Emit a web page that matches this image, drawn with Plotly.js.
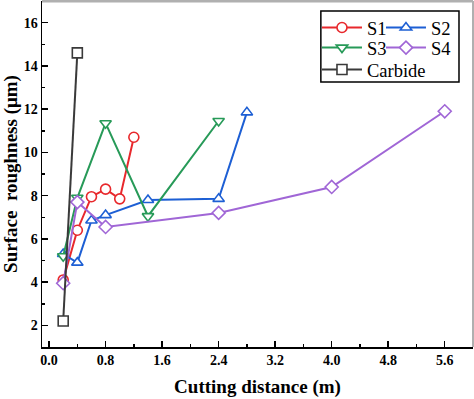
<!DOCTYPE html>
<html><head><meta charset="utf-8">
<script src="https://cdn.plot.ly/plotly-3.0.1.min.js"></script>
<style>html,body{margin:0;padding:0;background:#fff;}#chart{width:474px;height:399px;}</style>
</head><body><div id="chart"></div>
<script>
const s1X = [0.2, 0.4, 0.6, 0.8, 1.0, 1.2];
const s1Y = [4.1, 6.4, 7.95, 8.3, 7.85, 10.7];
const s2X = [0.2, 0.4, 0.6, 0.8, 1.4, 2.4, 2.8];
const s2Y = [5.3, 4.9, 6.85, 7.1, 7.8, 7.85, 11.85];
const s3X = [0.2, 0.4, 0.8, 1.4, 2.4];
const s3Y = [5.2, 7.9, 11.35, 7.05, 11.45];
const s4X = [0.2, 0.4, 0.8, 2.4, 4.0, 5.6];
const s4Y = [3.95, 7.7, 6.55, 7.2, 8.4, 11.9];
const carbX = [0.2, 0.4];
const carbY = [2.2, 14.6];
const xTicks = [0.0, 0.8, 1.6, 2.4, 3.2, 4.0, 4.8, 5.6];
const yTicks = [2, 4, 6, 8, 10, 12, 14, 16];

const FAM = 'Liberation Serif';
function tr(name, x, y, color, symbol, leg) {
  return {x: x, y: y, name: name, type: 'scatter', mode: 'lines+markers', legend: leg,
    line: {color: color, width: 2},
    marker: {symbol: symbol, size: 10, color: 'white', line: {color: color, width: 1.6}}};
}
const data = [
  tr('S1', s1X, s1Y, '#e8282c', 'circle', 'legend'),
  tr('S2', s2X, s2Y, '#1d5fd4', 'triangle-up', 'legend2'),
  tr('S3', s3X, s3Y, '#279a58', 'triangle-down', 'legend3'),
  tr('S4', s4X, s4Y, '#a066d6', 'diamond', 'legend4'),
  tr('Carbide', carbX, carbY, '#3a3a3a', 'square', 'legend5')
];
function leg(x, y) {
  return {x: x, y: y, xanchor: 'left', yanchor: 'middle', orientation: 'h',
    itemwidth: 40, bgcolor: 'rgba(0,0,0,0)', borderwidth: 0,
    font: {family: FAM, size: 18.5, color: '#000'}};
}
const tf = {family: FAM, size: 14, weight: 'bold', color: '#000'};
const layout = {
  width: 474, height: 399,
  margin: {l: 42, r: 1, t: 1, b: 52},
  paper_bgcolor: 'white', plot_bgcolor: 'white',
  showlegend: true,
  font: {family: FAM, color: '#000'},
  xaxis: {range: [-0.1, 6.0], tickvals: xTicks, ticktext: xTicks.map(v => v.toFixed(1)),
    ticks: 'inside', ticklen: 6, tickwidth: 1.5, tickcolor: '#000',
    minor: {dtick: 0.4, tick0: 0, ticks: 'inside', ticklen: 3, tickwidth: 1.5, tickcolor: '#000'},
    showline: true, linecolor: '#000', linewidth: 1.5, showgrid: false, zeroline: false,
    tickfont: tf,
    title: {text: 'Cutting distance (m)', font: {family: FAM, size: 19, weight: 'bold', color: '#000'}, standoff: 12}},
  yaxis: {range: [1, 17], tickvals: yTicks,
    ticks: 'inside', ticklen: 6, tickwidth: 1.5, tickcolor: '#000',
    minor: {dtick: 1, tick0: 1, ticks: 'inside', ticklen: 3, tickwidth: 1.5, tickcolor: '#000'},
    showline: true, linecolor: '#000', linewidth: 1.5, showgrid: false, zeroline: false,
    tickfont: tf,
    title: {text: 'Surface  roughness (μm)', font: {family: FAM, size: 19, weight: 'bold', color: '#000'}, standoff: 6}},
  legend: leg(0.638, 0.922),
  legend2: leg(0.7865, 0.922),
  legend3: leg(0.638, 0.864),
  legend4: leg(0.7865, 0.864),
  legend5: leg(0.638, 0.8006),
  shapes: [
    {type: 'rect', xref: 'paper', yref: 'paper', x0: 0.647, x1: 0.9675, y0: 0.766, y1: 0.971,
      fillcolor: 'white', line: {color: '#000', width: 1.5}, layer: 'above'},
    {type: 'line', xref: 'paper', yref: 'paper', x0: 0, x1: 1, y0: 1, y1: 1, line: {color: '#b0b0b0', width: 3}},
    {type: 'line', xref: 'paper', yref: 'paper', x0: 1, x1: 1, y0: 0, y1: 1, line: {color: '#b0b0b0', width: 2}}
  ]
};
Plotly.newPlot('chart', data, layout, {displayModeBar: false, staticPlot: true});
</script></body></html>
